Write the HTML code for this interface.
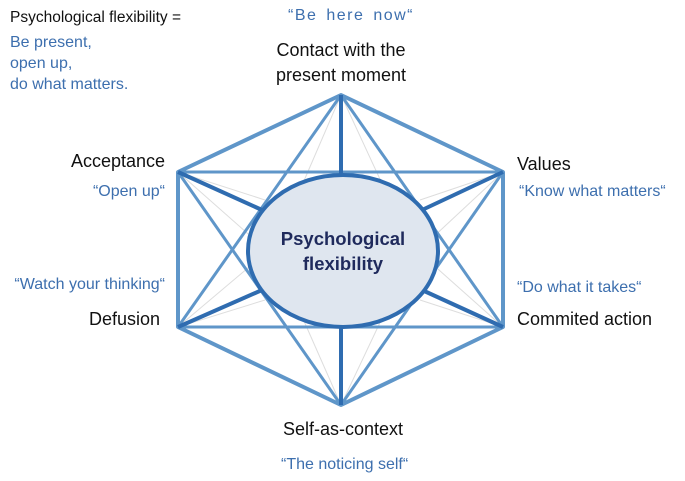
<!DOCTYPE html>
<html><head><meta charset="utf-8"><style>
html,body{margin:0;padding:0;background:#fff;}
body{width:685px;height:481px;position:relative;overflow:hidden;font-family:"Liberation Sans",sans-serif;}
.t{position:absolute;white-space:nowrap;}
.k{color:#111;font-size:18px;}
.b{color:#3d6fae;font-size:16px;}
</style></head><body>
<svg width="685" height="481" style="position:absolute;left:0;top:0">
<g stroke="#ddd" stroke-width="1" fill="none">
<line x1="341" y1="95" x2="300" y2="190"/><line x1="341" y1="95" x2="385" y2="190"/>
<line x1="341" y1="405" x2="300" y2="312"/><line x1="341" y1="405" x2="385" y2="312"/>
<line x1="178" y1="172" x2="265" y2="200"/><line x1="178" y1="172" x2="255" y2="240"/>
<line x1="503" y1="172" x2="420" y2="200"/><line x1="503" y1="172" x2="430" y2="240"/>
<line x1="178" y1="327" x2="265" y2="300"/><line x1="178" y1="327" x2="255" y2="262"/>
<line x1="503" y1="327" x2="420" y2="300"/><line x1="503" y1="327" x2="430" y2="262"/>
</g>
<g stroke="#5f96c9" stroke-width="3" fill="none">
<line x1="341" y1="95" x2="178" y2="327"/><line x1="341" y1="95" x2="503" y2="327"/>
<line x1="341" y1="405" x2="178" y2="172"/><line x1="341" y1="405" x2="503" y2="172"/>
<line x1="178" y1="172" x2="503" y2="172"/><line x1="178" y1="327" x2="503" y2="327"/>
</g>
<polygon points="341,95 503,172 503,327 341,405 178,327 178,172" fill="none" stroke="#5f96c9" stroke-width="4" stroke-linejoin="round"/>
<g stroke="#2f6cb0" stroke-width="4">
<line x1="341" y1="95" x2="341" y2="175"/><line x1="341" y1="405" x2="341" y2="327"/>
<line x1="178" y1="172" x2="262" y2="210"/><line x1="503" y1="172" x2="422" y2="210"/>
<line x1="178" y1="327" x2="262" y2="290"/><line x1="503" y1="327" x2="422" y2="290"/>
</g>
<ellipse cx="343" cy="251" rx="95" ry="76" fill="#dfe6ef" stroke="#2f6cb0" stroke-width="4"/>
<text x="343" y="245" text-anchor="middle" font-family="Liberation Sans" font-weight="bold" font-size="18.5" fill="#1f2a5c">Psychological</text>
<text x="343" y="270" text-anchor="middle" font-family="Liberation Sans" font-weight="bold" font-size="18.5" fill="#1f2a5c">flexibility</text>
</svg>
<div class="t k" style="left:10px;top:9px;font-size:15.5px;">Psychological flexibility =</div>
<div class="t b" style="left:10px;top:32px;line-height:21px;">Be present,<br>open up,<br>do what matters.</div>
<div class="t b" style="left:288px;top:7px;letter-spacing:1.5px;word-spacing:3px;">“Be here now“</div>
<div class="t k" style="left:271px;top:38px;text-align:center;line-height:25px;width:140px;">Contact with the<br>present moment</div>
<div class="t k" style="right:520px;top:151px;">Acceptance</div>
<div class="t b" style="right:520px;top:183px;">“Open up“</div>
<div class="t k" style="left:517px;top:154px;">Values</div>
<div class="t b" style="left:519px;top:183px;">“Know what matters“</div>
<div class="t b" style="right:520px;top:276px;">“Watch your thinking“</div>
<div class="t k" style="right:525px;top:309px;">Defusion</div>
<div class="t b" style="left:517px;top:279px;">“Do what it takes“</div>
<div class="t k" style="left:517px;top:309px;">Commited action</div>
<div class="t k" style="left:283px;top:419px;">Self-as-context</div>
<div class="t b" style="left:281px;top:456px;">“The noticing self“</div>
</body></html>
